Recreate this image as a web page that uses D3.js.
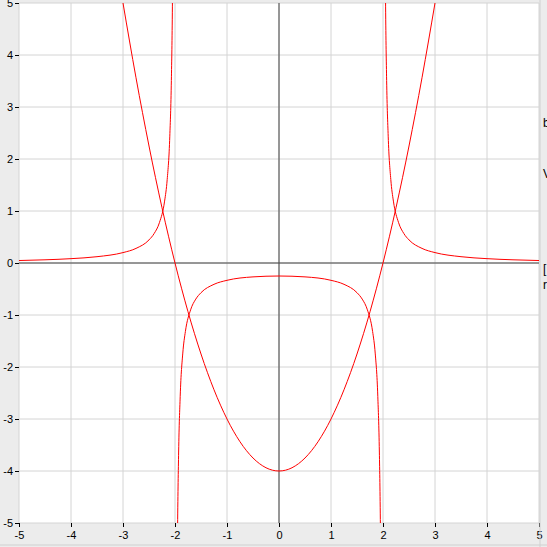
<!DOCTYPE html>
<html><head><meta charset="utf-8">
<script src="https://cdn.jsdelivr.net/npm/d3@7"></script>
<style>body{margin:0;background:#ececec;font-family:"Liberation Sans",Arial,sans-serif}</style>
</head><body>
<svg id="chart" width="547" height="547"></svg>
<script>
const ticks = [-5,-4,-3,-2,-1,0,1,2,3,4,5];
const parabola = [[-3,5],[-2.75,3.5625],[-2.5,2.25],[-2.25,1.0625],[-2,0],[-1.75,-0.9375],[-1.5,-1.75],[-1.25,-2.4375],[-1,-3],[-0.75,-3.4375],[-0.5,-3.75],[-0.25,-3.9375],[0,-4],[0.25,-3.9375],[0.5,-3.75],[0.75,-3.4375],[1,-3],[1.25,-2.4375],[1.5,-1.75],[1.75,-0.9375],[2,0],[2.25,1.0625],[2.5,2.25],[2.75,3.5625],[3,5]];
const leftBranch = [[-5,0.0476],[-4.5,0.0615],[-4,0.0833],[-3.5,0.1212],[-3,0.2],[-2.75,0.2807],[-2.5,0.444],[-2.4,0.568],[-2.3,0.775],[-2.2,1.19],[-2.15,1.606],[-2.1,2.439],[-2.07,3.51],[-2.05,4.94],[-2.04,6.19]];
const midBranch = [[-1.96,-6.31],[-1.95,-5.06],[-1.93,-3.635],[-1.9,-2.564],[-1.85,-1.732],[-1.8,-1.316],[-1.7,-0.901],[-1.6,-0.694],[-1.5,-0.571],[-1.25,-0.41],[-1,-0.333],[-0.5,-0.267],[0,-0.25],[0.5,-0.267],[1,-0.333],[1.25,-0.41],[1.5,-0.571],[1.6,-0.694],[1.7,-0.901],[1.8,-1.316],[1.85,-1.732],[1.9,-2.564],[1.93,-3.635],[1.95,-5.06],[1.96,-6.31]];
const rightBranch = [[2.04,6.19],[2.05,4.94],[2.07,3.51],[2.1,2.439],[2.15,1.606],[2.2,1.19],[2.3,0.775],[2.4,0.568],[2.5,0.444],[2.75,0.2807],[3,0.2],[3.5,0.1212],[4,0.0833],[4.5,0.0615],[5,0.0476]];

const svg = d3.select("#chart");
const L = 19, R = 539, T = 3, B = 523;
const x = d3.scaleLinear().domain([-5,5]).range([L,R]);
const y = d3.scaleLinear().domain([-5,5]).range([B,T]);
const fmt = d => String(d);

svg.append("rect").attr("x",L).attr("y",T).attr("width",R-L).attr("height",B-T).attr("fill","#fff");
svg.append("defs").append("clipPath").attr("id","clip").append("rect").attr("x",L).attr("y",T).attr("width",R-L).attr("height",B-T);

const grid = svg.append("g");
ticks.forEach(t => {
  grid.append("line").attr("x1",x(t)).attr("x2",x(t)).attr("y1",T).attr("y2",B).attr("stroke","#d4d4d4");
  grid.append("line").attr("y1",y(t)).attr("y2",y(t)).attr("x1",L).attr("x2",R).attr("stroke","#d4d4d4");
});
grid.append("line").attr("x1",x(0)).attr("x2",x(0)).attr("y1",T).attr("y2",B).attr("stroke","#444");
grid.append("line").attr("y1",y(0)).attr("y2",y(0)).attr("x1",L).attr("x2",R).attr("stroke","#444");

svg.append("g").attr("transform",`translate(0,${B})`)
  .call(d3.axisBottom(x).tickValues(ticks).tickSize(4).tickPadding(4).tickFormat(fmt))
  .call(g => g.select(".domain").remove())
  .call(g => g.selectAll("text").attr("font-size",11).attr("fill","#000"));
svg.append("g").attr("transform",`translate(${L},0)`)
  .call(d3.axisLeft(y).tickValues(ticks).tickSize(4).tickPadding(2).tickFormat(fmt))
  .call(g => g.select(".domain").remove())
  .call(g => g.selectAll("text").attr("font-size",11).attr("fill","#000"));

const line = d3.line().x(d => x(d[0])).y(d => y(d[1])).curve(d3.curveMonotoneX);
const curves = svg.append("g").attr("clip-path","url(#clip)");
[parabola, leftBranch, midBranch, rightBranch].forEach(s => {
  curves.append("path").attr("d", line(s)).attr("fill","none").attr("stroke","#ff0000").attr("stroke-width",1);
});

// clipped side panel
svg.append("line").attr("x1",R+1).attr("x2",R+1).attr("y1",0).attr("y2",547).attr("stroke","#d0d0d0");
svg.append("line").attr("x1",0).attr("x2",547).attr("y1",545).attr("y2",545).attr("stroke","#d0d0d0");
[["b",127],["V",178],["[",273],["r",289]].forEach(([t,yy]) =>
  svg.append("text").attr("x",543).attr("y",yy).attr("font-size",12).text(t));
</script>
</body></html>
